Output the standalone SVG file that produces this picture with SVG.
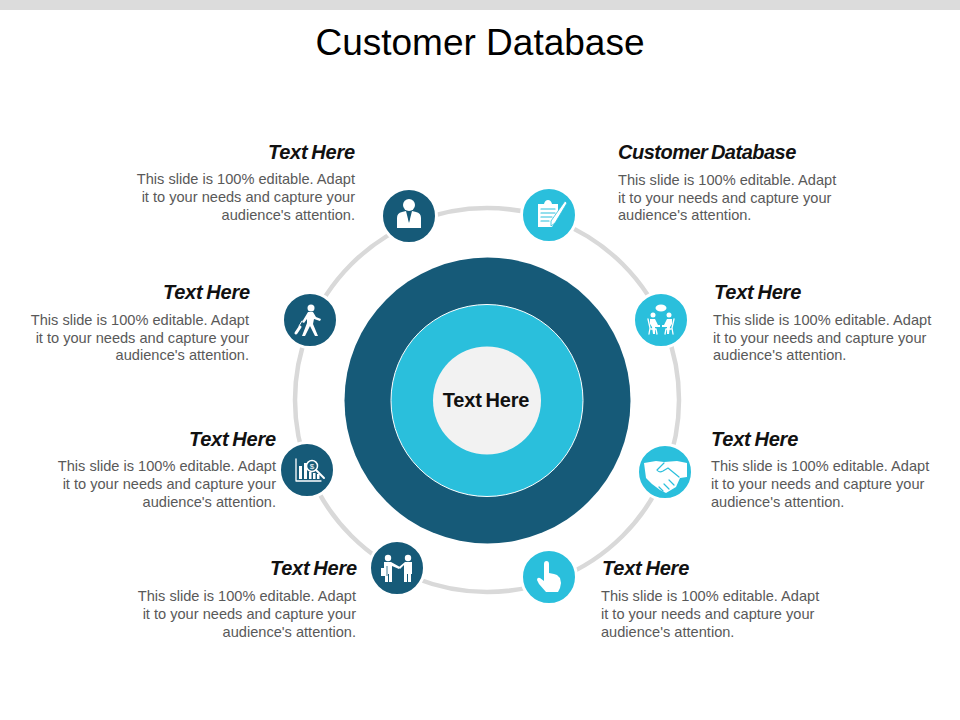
<svg xmlns="http://www.w3.org/2000/svg" width="960" height="720" viewBox="0 0 960 720">
<style>
text{font-family:"Liberation Sans",Arial,sans-serif}
.t{font-size:37px;fill:#000;text-anchor:middle}
.h{font-size:20px;font-weight:bold;font-style:italic;fill:#111;letter-spacing:-.2px;word-spacing:-1.500px}
.b{font-size:14.600px;fill:#595959}
.e{text-anchor:end}
.d{fill:#165a78;stroke:#fff;stroke-width:3}
.l{fill:#2abfdc;stroke:#fff;stroke-width:3}
.w{fill:#fff}
.s{fill:none;stroke:#fff;stroke-width:2;stroke-linecap:round;stroke-linejoin:round}
.sl{fill:none;stroke:#2abfdc;stroke-width:1.200;stroke-linecap:round;stroke-linejoin:round}
</style>
<rect width="960" height="10" fill="#dcdcdc"/>
<text class="t" x="480" y="55">Customer Database</text>
<g id="connectors"><circle cx="487" cy="400" r="192" fill="none" stroke="#d9d9d9" stroke-width="4.500"/></g>
<g id="center">
<circle cx="487.500" cy="400.500" r="143" fill="#165a78"/>
<circle cx="487" cy="400.500" r="96" fill="#2abfdc" stroke="#fff" stroke-width="1"/>
<circle cx="487" cy="400.500" r="54" fill="#f2f2f2"/>
<text x="486" y="406.500" font-size="20" font-weight="bold" fill="#111" text-anchor="middle" style="letter-spacing:-.2px;word-spacing:-1.500px">Text Here</text>
</g>
<g id="node-1">
<circle class="d" cx="409" cy="216" r="27.500"/>
<circle class="w" cx="409" cy="205" r="6"/>
<path class="w" d="M397 228v-10q0-5 5-6l4-1 3 12 3-12 4 1q5 1 5 6v10z"/>
<path d="M409 213l-1 3 1 6 1-6z" fill="#165a78"/>
<text class="h e" x="355" y="159">Text Here</text>
<text class="b e" x="355" y="184">This slide is 100% editable. Adapt</text>
<text class="b e" x="355" y="202">it to your needs and capture your</text>
<text class="b e" x="355" y="220">audience's attention.</text>
</g>
<g id="node-2">
<circle class="l" cx="549" cy="215" r="27.500"/>
<path class="w" d="M538 204h6q1-4 4-4t4 4h6v13l-6 10h-14z"/>
<path class="sl" d="M541 209h14M541 213h14M541 217h11M541 221h8"/>
<path class="w" d="M565 201l2 2-12 20-4 3 0-5z" stroke="#2abfdc" stroke-width=".8"/>
<text class="h" x="618" y="159" style="letter-spacing:-.5px">Customer Database</text>
<text class="b" x="618" y="185">This slide is 100% editable. Adapt</text>
<text class="b" x="618" y="203">it to your needs and capture your</text>
<text class="b" x="618" y="220">audience's attention.</text>
</g>
<g id="node-3">
<circle class="l" cx="661" cy="320" r="27.500"/>
<ellipse class="w" cx="661" cy="308" rx="5.500" ry="3.500"/>
<circle class="w" cx="653" cy="315" r="2.500"/><circle class="w" cx="669" cy="315" r="2.500"/>
<path class="w" d="M650 319h5l3 6h2v2h-5v7h-2l-1-7-2-3zM672 319h-5l-3 6h-2v2h5v7h2l1-7 2-3z"/>
<path class="s" style="stroke-width:1.300" d="M648 319l2 9-1 6M651 329h5l1 5M674 319l-2 9 1 6M671 329h-5l-1 5"/>
<text class="h" x="714" y="299">Text Here</text>
<text class="b" x="713" y="325">This slide is 100% editable. Adapt</text>
<text class="b" x="713" y="343">it to your needs and capture your</text>
<text class="b" x="713" y="360">audience's attention.</text>
</g>
<g id="node-4">
<circle class="l" cx="665" cy="472" r="27.500"/>
<path class="w" d="M644 463l12-2 8 1 13-1 10 2v14l-7 1-4 9-5 3-5 3-6-3-8-6-6-6z"/>
<path class="sl" d="M657 470q2 3 6 1l5-3 11 9M664 463l-7 7M669 480l5 5M664 484l5 5M659 487l4 4"/>
<text class="h" x="711" y="446">Text Here</text>
<text class="b" x="711" y="471">This slide is 100% editable. Adapt</text>
<text class="b" x="711" y="489">it to your needs and capture your</text>
<text class="b" x="711" y="507">audience's attention.</text>
</g>
<g id="node-5">
<circle class="l" cx="549" cy="577" r="27.500"/>
<path class="w" d="M544 564q0-3 2.500-3t2.500 3v9l5 1 3 1 3 3 1 5-1 5-2 4h-12l-7-8-2-4q0-3 3-2l4 3z"/>
<text class="h" x="602" y="575">Text Here</text>
<text class="b" x="601" y="601">This slide is 100% editable. Adapt</text>
<text class="b" x="601" y="619">it to your needs and capture your</text>
<text class="b" x="601" y="637">audience's attention.</text>
</g>
<g id="node-6">
<circle class="d" cx="397" cy="568" r="27.500"/>
<circle class="w" cx="388" cy="558" r="3.200"/><circle class="w" cx="408" cy="558" r="3.200"/>
<path class="w" d="M384 562h7l9 5-1 2-7-3v16h-3v-8h-1v8h-3v-8h-1zM405 562h7v12h-1v8h-3v-8h-1v8h-3v-17l-4 4-1-2z"/>
<rect class="w" x="381" y="568" width="6" height="8"/>
<path d="M387 566v10" stroke="#165a78" stroke-width=".8"/>
<text class="h e" x="357" y="575">Text Here</text>
<text class="b e" x="356" y="601">This slide is 100% editable. Adapt</text>
<text class="b e" x="356" y="619">it to your needs and capture your</text>
<text class="b e" x="356" y="637">audience's attention.</text>
</g>
<g id="node-7">
<circle class="d" cx="307" cy="470" r="27.500"/>
<path class="s" style="stroke-width:1.300" d="M296 459v22h25"/>
<path class="w" d="M299 466h3v13h-3zM304 463h3v16h-3zM309 472h2.500v7h-2.500zM313 473h2.500v6h-2.500zM317 474h2.500v5h-2.500z"/>
<circle cx="312" cy="466" r="5.500" fill="#165a78" stroke="#fff" stroke-width="1.500"/>
<path class="s" d="M316 470l8 8"/>
<text x="312" y="469" font-size="8" fill="#fff" text-anchor="middle">$</text>
<text class="h e" x="276" y="446">Text Here</text>
<text class="b e" x="276" y="471">This slide is 100% editable. Adapt</text>
<text class="b e" x="276" y="489">it to your needs and capture your</text>
<text class="b e" x="276" y="507">audience's attention.</text>
</g>
<g id="node-8">
<circle class="d" cx="310" cy="320" r="27.500"/>
<circle class="w" cx="311" cy="308" r="3.500"/>
<path class="w" d="M308 312h5l3 5 5 2-1 2-6-2-1 5 5 12h-3l-5-10-5 10h-3l5-13 0-4-3 4-2-1z"/>
<path class="s" style="stroke-width:3" d="M296 333l4-6"/>
<path class="s" style="stroke-width:1" d="M299 326l3-5"/>
<text class="h e" x="250" y="299">Text Here</text>
<text class="b e" x="249" y="325">This slide is 100% editable. Adapt</text>
<text class="b e" x="249" y="343">it to your needs and capture your</text>
<text class="b e" x="249" y="360">audience's attention.</text>
</g>
</svg>
